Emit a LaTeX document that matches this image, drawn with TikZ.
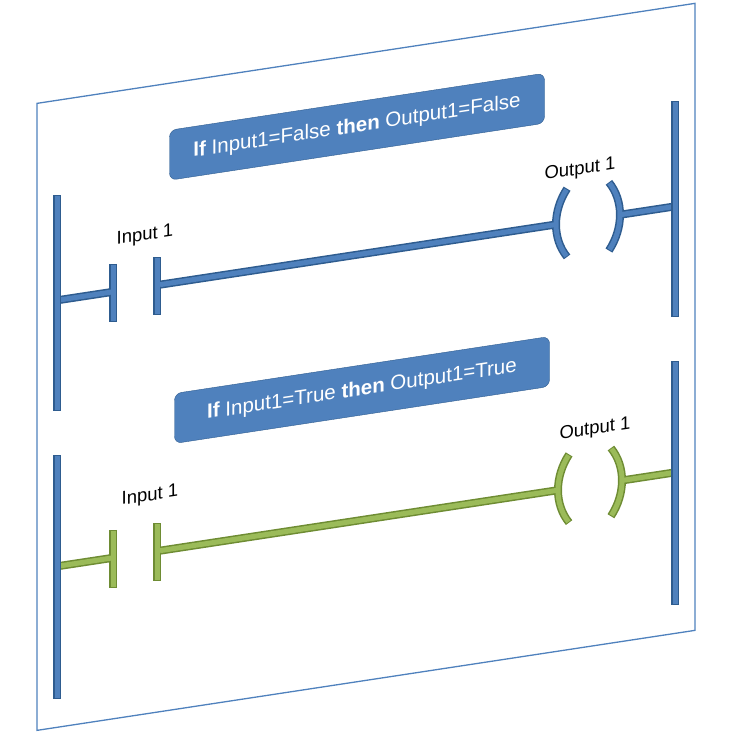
\documentclass[tikz,border=0pt]{standalone}
\usepackage{fontspec}
\setmainfont{Liberation Sans}
\definecolor{bl}{HTML}{4F81BD}
\definecolor{bld}{HTML}{2E5C8F}
\definecolor{gr}{HTML}{9BBB59}
\definecolor{grd}{HTML}{6E8C33}
\begin{document}
\begin{tikzpicture}[x=1pt,y=1pt,
  banner/.style={transform shape,draw=bld,fill=bl,rounded corners=7pt,minimum width=375pt,minimum height=50pt,text=white,font=\fontsize{20.5}{24}\selectfont,inner sep=0pt},
  lab/.style={transform shape,font=\fontsize{18.5}{21}\selectfont,text=black}]
\useasboundingbox (0,0) rectangle (737,736);
\begin{scope}[yslant=0.152]
\draw[bl,line width=1.3pt] (37,0) rectangle (695,627);
\newcommand\rung[6]{% #1 Y rung, #2 rail top, #3 rail bottom, #4 dark, #5 main, #6 coil X
  \draw[line width=8pt,#4] (57,#1) -- (113,#1);
  \draw[line width=8pt,#4] (113,#1+28) -- (113,#1-30);
  \draw[line width=8pt,#4] (157,#1+28) -- (157,#1-30);
  \draw[line width=8pt,#4] (157,#1) -- (#6-32,#1);
  \draw[line width=8pt,#4] (#6+32,#1) -- (675,#1);
  \draw[line width=8pt,#4] ([shift={(#6+26,#1)}]144:58) arc[start angle=144,end angle=216,radius=58];
  \draw[line width=8pt,#4] ([shift={(#6-26,#1)}]-36:58) arc[start angle=-36,end angle=36,radius=58];
  \draw[line width=5pt,#5] (60,#1) -- (113,#1);
  \draw[line width=5pt,#5] (113,#1+27) -- (113,#1-29);
  \draw[line width=5pt,#5] (157,#1+27) -- (157,#1-29);
  \draw[line width=5pt,#5] (160,#1) -- (#6-32,#1);
  \draw[line width=5pt,#5] (#6+32,#1) -- (672,#1);
  \draw[line width=5pt,#5] ([shift={(#6+26,#1)}]145:58) arc[start angle=145,end angle=215,radius=58];
  \draw[line width=5pt,#5] ([shift={(#6-26,#1)}]-35:58) arc[start angle=-35,end angle=35,radius=58];
  \draw[line width=8pt,bld] (57,#2) -- (57,#3);
  \draw[line width=8pt,bld] (675,#2) -- (675,#3);
  \draw[line width=5pt,bl] (57,#2-1) -- (57,#3+1);
  \draw[line width=5pt,bl] (675,#2-1) -- (675,#3+1);
}
\rung{427}{532}{316}{bld}{bl}{588}
\node[banner] (b1) at (357,555) {\textbf{If} Input1=False \textbf{then} Output1=False};
\node[lab] (i1) at (145,478) {Input 1};
\node[lab] (o1) at (580,478) {Output 1};
\rung{161}{272}{28}{grd}{gr}{590}
\node[banner] (b2) at (362,291) {\textbf{If} Input1=True \textbf{then} Output1=True};
\node[lab] (i2) at (150,217) {Input 1};
\node[lab] (o2) at (595,216) {Output 1};
\end{scope}
\end{tikzpicture}
\end{document}
